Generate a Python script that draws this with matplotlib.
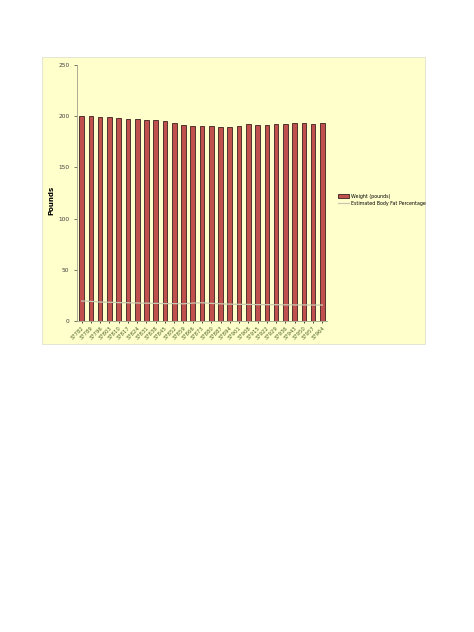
import numpy as np
import matplotlib
matplotlib.use("Agg")
import matplotlib.pyplot as plt
from matplotlib.patches import Rectangle

# dates shown as Excel serial numbers
dates = ['37782', '37789', '37796', '37803', '37810', '37817', '37824', '37831', '37838',
         '37845', '37852', '37859', '37866', '37873', '37880', '37887', '37894', '37901',
         '37908', '37915', '37922', '37929', '37936', '37943', '37950', '37957', '37964']
weight = [200, 200, 199, 199, 198, 197, 197, 196, 196, 195, 193, 191, 190, 190,
          190, 189, 189, 190, 192, 191, 191, 192, 192, 193, 193, 192, 193]
body_fat = [19.5, 19.2, 18.5, 18.3, 18.0, 17.8, 17.6, 17.4, 17.2, 17.0, 17.0, 16.8, 17.5, 17.8,
            17.2, 16.8, 16.5, 16.3, 16.2, 16.0, 16.0, 15.9, 15.8, 15.7, 15.7, 15.6, 15.6]

fig = plt.figure(figsize=(4.74, 6.32), dpi=100)
fig.patch.set_facecolor('white')

# chart area background
bg = Rectangle((42 / 474, 1 - 344 / 632), (425 - 42) / 474, (344 - 57) / 632,
               transform=fig.transFigure, facecolor='#FFFFCC', edgecolor='#E0E0D0',
               linewidth=0.6, zorder=-10)
fig.patches.append(bg)

ax = fig.add_axes([77 / 474, 1 - 321 / 632, (327 - 77) / 474, (321 - 65) / 632])
ax.set_zorder(5)
ax.patch.set_alpha(0)

x = np.arange(len(dates))
bars = ax.bar(x, weight, width=0.5, color='#C0504D', edgecolor='#3A1F1F', linewidth=0.6,
              label='Weight (pounds)', zorder=2)
line, = ax.plot(x, body_fat, color='#C8C8B0', linewidth=0.9,
                label='Estimated Body Fat Percentage', zorder=3)

ax.set_xlim(-0.5, len(dates) - 0.5)
ax.set_ylim(0, 250)
ax.set_yticks(np.arange(0, 251, 50))
ax.set_xticks(x)
ax.set_xticklabels(dates, rotation=45, ha='right', rotation_mode='anchor',
                   fontsize=3.8, color='#4F6228')
ax.tick_params(axis='y', labelsize=4.2, colors='#404040', length=2, width=0.5)
ax.tick_params(axis='x', length=1.5, width=0.5, pad=1.5)

for s in ['top', 'right']:
    ax.spines[s].set_visible(False)
for s in ['left', 'bottom']:
    ax.spines[s].set_color('#A0A090')
    ax.spines[s].set_linewidth(0.6)

ax.set_ylabel('Pounds', fontsize=5, fontweight='bold', labelpad=0)
ax.yaxis.set_label_coords(-0.09, 0.47)

leg = fig.legend([bars, line], ['Weight (pounds)', 'Estimated Body Fat Percentage'],
                 loc='center left', bbox_to_anchor=(334 / 474, 1 - 200 / 632),
                 frameon=False, fontsize=3.4, handlelength=2.2, handleheight=0.8,
                 labelspacing=0.5, handletextpad=0.4)
leg.set_zorder(6)

fig.savefig('out.png', dpi=100, facecolor='white')
